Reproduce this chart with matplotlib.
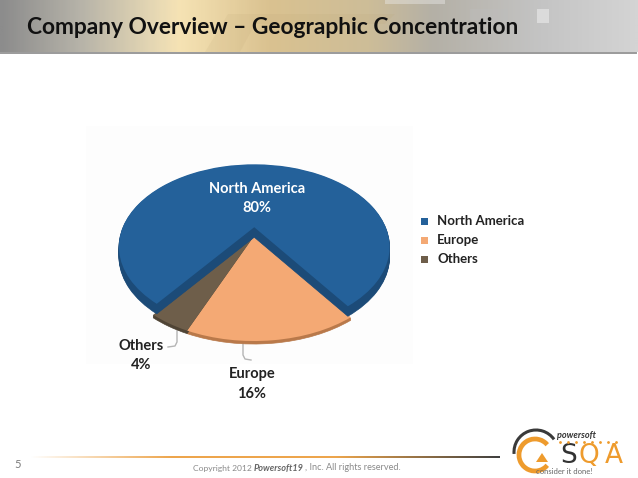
"""Company overview slide: geographic concentration pie with slide furniture."""
import matplotlib
matplotlib.use("Agg")
import matplotlib.pyplot as plt
import numpy as np
from matplotlib.colors import LinearSegmentedColormap
from matplotlib.patches import Arc, PathPatch, Polygon, Rectangle
from matplotlib.path import Path

plt.rcParams["font.family"] = ["Lato", "DejaVu Sans"]

REGIONS = ["North America", "Europe", "Others"]
SHARES = [80, 16, 4]
TOP_COLORS = ["#24619A", "#F4A974", "#6E5E4A"]
SIDE_COLORS = ["#1C4B78", "#B9794A", "#4F4435"]
EXPLODE = [0.11, 0, 0]
DEPTH = [10, 3, 3]

W, H = 638, 478
fig = plt.figure(figsize=(W / 100, H / 100), dpi=100)
ax = fig.add_axes([0, 0, 1, 1])


def project(xy, a=79.5, apex=(254, 236)):
    # tilted disc: unit circle to slide pixels, back edge foreshortened
    k, b = 0.243, 135
    w = 1 + k * xy[:, 1]
    return np.column_stack([apex[0] + b * xy[:, 0] / w, apex[1] - a * xy[:, 1] / w])


# let pie work out the wedges, then tilt them onto the slide
pie_ax = fig.add_axes([0, 0, 0.1, 0.1])
wedges, _ = pie_ax.pie(SHARES, startangle=233, counterclock=False, explode=EXPLODE)
paths = [w.get_path().transformed(w.get_patch_transform()) for w in wedges]
fig.delaxes(pie_ax)

# header band
stops = [(0, "#8C8C8C"), (0.12, "#B5B2A8"), (0.24, "#E6D8B4"), (0.28, "#F6E3B4"),
         (0.42, "#DAC290"), (0.58, "#CDBD98"), (0.68, "#B4B0A6"), (0.85, "#C4C4C4"), (1, "#D4D4D4")]
band = LinearSegmentedColormap.from_list("band", stops)
ax.imshow(np.linspace(0, 1, 320)[None, :], cmap=band, extent=(0, W, 52, 0), aspect="auto", zorder=1)
ax.add_patch(Polygon([(205, 52), (228, 14), (395, 14), (385, 24), (255, 24), (240, 52)],
                     fc="#B8A070", alpha=0.12, ec="none", zorder=2))
ax.add_patch(Rectangle((385, 0), 60, 4, fc="#EFEFEF", alpha=0.4, ec="none", zorder=2))
ax.add_patch(Rectangle((470, 9), 38, 12, fc="#BDBDBD", alpha=0.35, ec="none", zorder=2))
ax.add_patch(Rectangle((537, 9), 12, 14, fc="#E2E2E2", alpha=0.8, ec="none", zorder=2))
ax.plot([0, 636], [52.5, 52.5], color="#9A9A9A", lw=1.4, zorder=2)
ax.text(27, 27, "Company Overview \u2013 Geographic Concentration", fontsize=16.4,
        fontweight="bold", color="#111111", va="center", ha="left", zorder=3)

# faint panel behind the chart
ax.add_patch(Rectangle((86, 126), 327, 238, fc="#FDFDFD", ec="none", zorder=1))

# small slices first, the exploded blue wedge sits over them
for i in [1, 2]:
    verts = project(paths[i].vertices)
    for dy in range(DEPTH[i], 0, -1):
        ax.add_patch(PathPatch(Path(verts + [0, dy], paths[i].codes), fc=SIDE_COLORS[i],
                               ec=SIDE_COLORS[i], lw=0.5, zorder=3))
for i in [1, 2]:
    ax.add_patch(PathPatch(Path(project(paths[i].vertices), paths[i].codes), fc=TOP_COLORS[i],
                           ec="none", zorder=4))
blue = project(paths[0].vertices, a=82)
for dy in range(DEPTH[0], 0, -1):
    ax.add_patch(PathPatch(Path(blue + [0, dy], paths[0].codes), fc=SIDE_COLORS[0],
                           ec=SIDE_COLORS[0], lw=0.5, zorder=5))
ax.add_patch(PathPatch(Path(blue, paths[0].codes), fc=TOP_COLORS[0], ec="none", zorder=5))

# leader lines
ax.plot([177, 177, 175, 168], [329, 342, 346, 347], color="#B5B5B5", lw=1, zorder=2)
ax.plot([243, 243, 245, 251], [342, 355, 359, 360], color="#B5B5B5", lw=1, zorder=2)

# data labels
ax.text(257, 189, REGIONS[0], color="white", fontsize=10.5, fontweight="bold",
        ha="center", va="center", zorder=6)
ax.text(257, 208, f"{SHARES[0]}%", color="white", fontsize=10.5, fontweight="bold",
        ha="center", va="center", zorder=6)
ax.text(141, 346, REGIONS[2], color="#222222", fontsize=10.5, fontweight="bold", ha="center", va="center")
ax.text(141, 365, f"{SHARES[2]}%", color="#222222", fontsize=10.5, fontweight="bold", ha="center", va="center")
ax.text(252, 374, REGIONS[1], color="#222222", fontsize=10.5, fontweight="bold", ha="center", va="center")
ax.text(252, 394, f"{SHARES[1]}%", color="#222222", fontsize=10.5, fontweight="bold", ha="center", va="center")

# legend
for name, color, y in zip(REGIONS, TOP_COLORS, [221, 240, 259]):
    ax.add_patch(Rectangle((421, y - 3), 6.5, 6.5, fc=color, ec="none", zorder=3))
    ax.text(437, y, name, color="#222222", fontsize=9.5, fontweight="bold", ha="left", va="center")

# footer rule
t = np.linspace(0, 1, 300)
rule = np.zeros((1, 300, 4))
rule[0, :, 0] = np.where(t < 0.65, 0.93, 0.93 - (t - 0.65) / 0.35 * 0.68)
rule[0, :, 1] = np.where(t < 0.65, 0.65, 0.65 - (t - 0.65) / 0.35 * 0.40)
rule[0, :, 2] = np.where(t < 0.65, 0.30, 0.30 - (t - 0.65) / 0.35 * 0.05)
rule[0, :, 3] = np.clip(t / 0.3, 0, 1)
ax.imshow(rule, extent=(30, 500, 458.5, 456.5), aspect="auto", zorder=2)
ax.text(18, 464, "5", color="#7A7A7A", fontsize=8, ha="center", va="center")
ax.text(193, 468, "Copyright 2012", color="#8A8A8A", fontsize=6.1, ha="left", va="center")
ax.text(254, 468, "Powersoft19", color="#666666", fontsize=6.6, fontstyle="italic", fontweight="bold",
        ha="left", va="center")
ax.text(305, 468, ", Inc. All rights reserved.", color="#8A8A8A", fontsize=6.6, ha="left", va="center")

# logo
ax.add_patch(Arc((536, 452), 44, 44, theta1=175, theta2=325, color="#3A3A3A", lw=2.2, zorder=3))
ax.add_patch(Arc((535, 455), 32, 32, theta1=40, theta2=320, color="#EE9B2D", lw=3.4, zorder=3))
ax.add_patch(Polygon([(542, 453), (548, 462), (536, 462)], fc="#EE9B2D", ec="none", zorder=3))
for letter, x, color in zip("SQA", [569, 589, 614], ["#333333", "#EE9B2D", "#EE9B2D"]):
    ax.text(x, 456, letter, color=color, fontsize=19, family="DejaVu Sans", ha="center", va="center", zorder=3)
ax.text(557, 436, "powersoft", color="#333333", fontsize=6.6, fontweight="bold", fontstyle="italic",
        ha="left", va="center", zorder=3)
ax.scatter(np.arange(560, 620, 8), [442] * 8, s=1, color="#EE9B2D", zorder=3)
ax.text(536, 472, "consider it done!", color="#666666", fontsize=5.5, ha="left", va="center", zorder=3)

ax.set_xlim(0, W)
ax.set_ylim(H, 0)
ax.axis("off")
fig.savefig("out.png", dpi=100)
